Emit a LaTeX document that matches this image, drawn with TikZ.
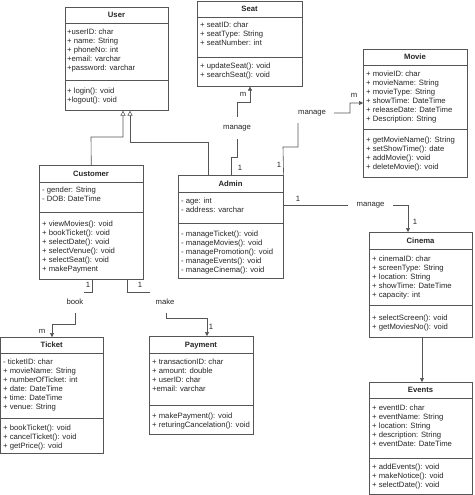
\documentclass[tikz,border=0pt]{standalone}
\usepackage{fontspec}
\setmainfont{Liberation Sans}
\usetikzlibrary{arrows.meta}
\definecolor{ln}{HTML}{555555}
\definecolor{tx}{HTML}{262626}
\tikzset{
  box/.style={draw=ln, line width=0.6pt, fill=white, inner sep=0pt},
  line/.style={draw=ln, line width=0.6pt},
  txt/.style={text=tx, font=\fontsize{7.7}{9}\selectfont, inner sep=0pt},
  ttl/.style={text=tx, font=\fontsize{7.7}{9}\selectfont\bfseries, inner sep=0pt},
  lbl/.style={fill=white, text=tx, font=\fontsize{7.7}{9}\selectfont, inner sep=0pt},
  arr/.style={line, -{Triangle[length=4pt,width=4pt]}},
  gen/.style={line, -{Triangle[open,fill=white,length=5pt,width=5pt]}},
}
\newcommand\umlclass[8]{%
  \node[box, anchor=north west, minimum width={#4-#2}, minimum height={#5-#3}] (#1) at (#2,#3) {};
  \draw[line] (#2,#6) -- (#4,#6);
  \draw[line] (#2,#7) -- (#4,#7);
  \node[ttl, anchor=base, name=#1-title] at ({(#2+#4)/2},{(#3+#6)/2+2.8}) {#8};
}
\newcommand\umllines[4]{%
  \foreach \umlitem [count=\i] in {#4} {\node[txt, anchor=base west, name=#1-\i] at (#2,{#3+2.8+9*(\i-1)}) {\umlitem};}
}
\begin{document}
\begin{tikzpicture}[x=1pt,y=-1pt]
\useasboundingbox (0,0) rectangle (474,495);
\fill[white] (0,0) rectangle (474,495);

% classes
\umlclass{user}{65}{7}{168}{110}{23}{80}{User}
\umllines{usera}{67}{32}{+userID: char,+ name: String,+ phoneNo: int,+email: varchar,+password: varchar}
\umllines{userm}{67}{91}{+ login(): void,+logout(): void}

\umlclass{seat}{197}{1}{302}{86}{17}{57}{Seat}
\umllines{seata}{200}{25}{+ seatID: char,+ seatType: String,+ seatNumber: int}
\umllines{seatm}{200}{66}{+ updateSeat(): void,+ searchSeat(): void}

\umlclass{movie}{363}{49}{467}{177}{65}{129}{Movie}
\umllines{moviea}{366}{74}{+ movieID: char,+ movieName: String,+ movieType: String,+ showTime: DateTime,+ releaseDate: DateTime,+ Description: String}
\umllines{moviem}{366}{140}{+ getMovieName(): String,+ setShowTime(): date,+ addMovie(): void,+ deleteMovie(): void}

\umlclass{cust}{39}{165}{143}{279}{182}{212}{Customer}
\umllines{custa}{42}{190}{- gender: String,- DOB: DateTime}
\umllines{custm}{42}{224}{+ viewMovies(): void,+ bookTicket(): void,+ selectDate(): void,+ selectVenue(): void,+ selectSeat(): void,+ makePayment}

\umlclass{admin}{178}{175}{283}{278}{192}{223}{Admin}
\umllines{admina}{181}{201}{- age: int,- address: varchar}
\umllines{adminm}{181}{234}{- manageTicket(): void,- manageMovies(): void,- managePromotion(): void,- manageEvents(): void,- manageCinema(): void}

\umlclass{cinema}{369}{232}{472}{337}{249}{305}{Cinema}
\umllines{cinemaa}{372}{259}{+ cinemaID: char,+ screenType: String,+ location: String,+ showTime: DateTime,+ capacity: int}
\umllines{cinemam}{372}{318}{+ selectScreen(): void,+ getMoviesNo(): void}

\umlclass{events}{369}{382}{472}{494}{398}{458}{Events}
\umllines{eventsa}{372}{408}{+ eventID: char,+ eventName: String,+ location: String,+ description: String,+ eventDate: DateTime}
\umllines{eventsm}{372}{467}{+ addEvents(): void,+ makeNotice(): void,+ selectDate(): void}

\umlclass{ticket}{0.5}{337}{103}{453}{353}{418}{Ticket}
\umllines{ticketa}{3}{362}{- ticketID: char,+ movieName: String,+ numberOfTicket: int,+ date: DateTime,+ time: DateTime,+ venue: String}
\umllines{ticketm}{3}{428}{+ bookTicket(): void,+ cancelTicket(): void,+ getPrice(): void}

\umlclass{payment}{149}{336}{253}{434}{353}{405}{Payment}
\umllines{paymenta}{152}{362}{+ transactionID: char,+ amount: double,+ userID: char,+email: varchar}
\umllines{paymentm}{152}{416}{+ makePayment(): void,+ returingCancelation(): void}

% generalizations
\draw[gen] (cust.north) -- (91,137) -- (123,137) -- ([xshift=58pt]user.south west);
\draw[gen] ([xshift=30pt]admin.north west) -- (208,142) -- (130,142) -- ([xshift=65pt]user.south west);

% associations
\draw[arr] ([xshift=53pt]admin.north west) -- (231,157) -- (237,157) -- (237,102) -- (250,102) -- ([xshift=53pt]seat.south west);
\draw[arr] (admin.north east) -- (283,147) -- (298,147) -- (298,113) -- (350,113) -- (350,103) -- ([yshift=-54pt]movie.north west);
\draw[arr] ([yshift=-30pt]admin.north east) -- (408,205) -- ([xshift=39pt]cinema.north west);
\draw[arr] ([xshift=53pt]cinema.south west) -- ([xshift=53pt]events.north west);
\draw[arr] ([xshift=53pt]cust.south west) -- (92,292) -- (75,292) -- (75,324) -- (52,324) -- ([xshift=51.5pt]ticket.north west);
\draw[arr] ([xshift=88pt]cust.south west) -- (127,292) -- (166,292) -- (166,318) -- (207,318) -- ([xshift=58pt]payment.north west);

% association labels
\node[lbl, minimum width=30pt, minimum height=22pt] (lseat) at (237,128) {manage};
\node[lbl, minimum width=44pt, minimum height=20pt] (lmovie) at (312,113) {manage};
\node[lbl, minimum width=45pt, minimum height=12pt] (lcinema) at (370.5,205) {manage};
\node[lbl, minimum width=17pt, minimum height=22pt] (lbook) at (75,302) {book};
\node[lbl, minimum width=30pt, minimum height=22pt] (lmake) at (165,302) {make};

% multiplicities
\node[txt] (m1) at (240,168) {1};
\node[txt] (m2) at (243,94) {m};
\node[txt] (m3) at (279,165) {1};
\node[txt] (m4) at (354,95) {m};
\node[txt] (m5) at (298,199) {1};
\node[txt] (m6) at (415,222) {1};
\node[txt] (m7) at (88,285) {1};
\node[txt] (m8) at (42,331) {m};
\node[txt] (m9) at (140,285) {1};
\node[txt] (m10) at (211,327) {1};
\end{tikzpicture}
\end{document}
